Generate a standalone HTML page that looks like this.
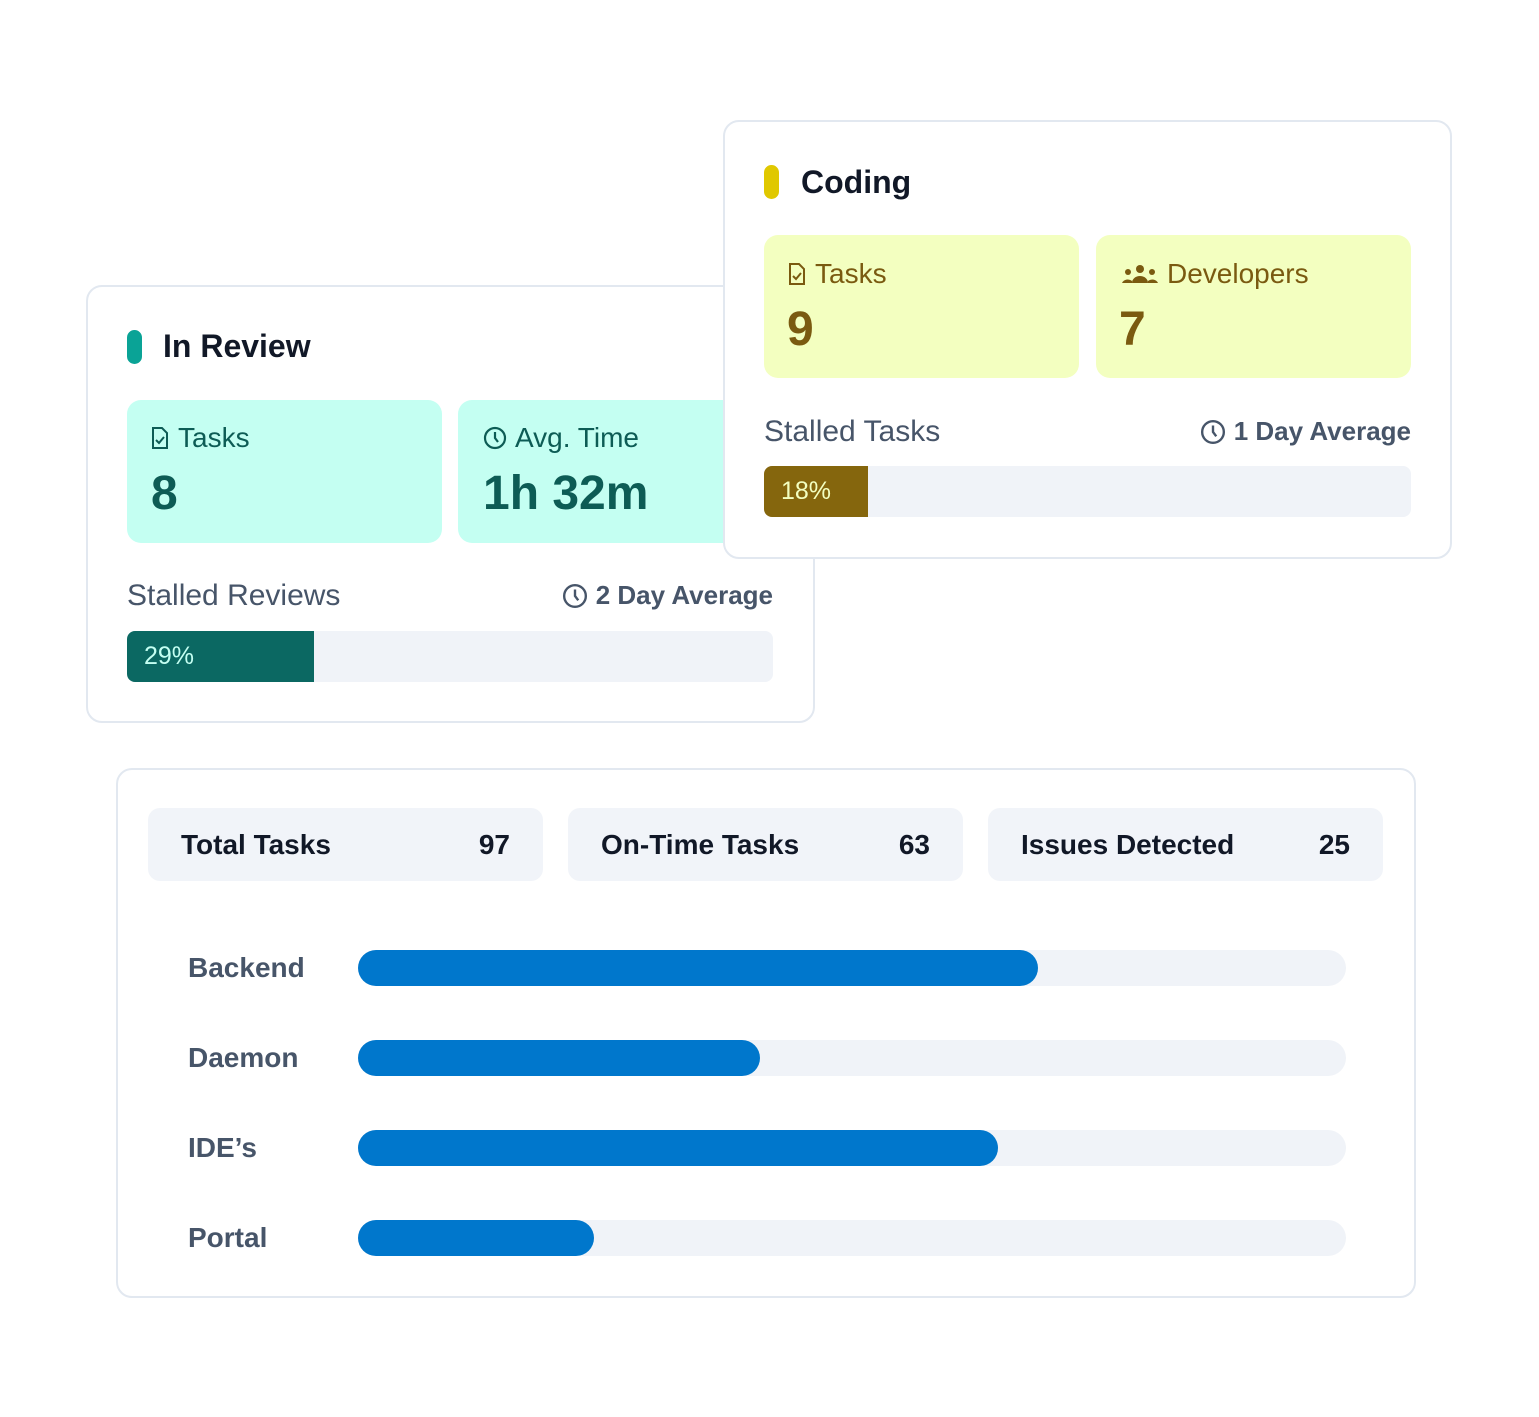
<!DOCTYPE html>
<html><head><meta charset="utf-8"><style>
body{margin:0;width:1539px;height:1417px;background:#fff;font-family:"Liberation Sans",sans-serif;position:relative;overflow:hidden}
.abs{position:absolute}
.card{position:absolute;background:#fff;border:2px solid #e2e8f0;border-radius:16px;box-sizing:border-box}
.tile{position:absolute;border-radius:14px}
.lbl{position:absolute;font-size:28px;display:flex;align-items:center;gap:8px}
.val{position:absolute;font-size:48px;font-weight:bold}
.track{position:absolute;background:#f0f3f8;border-radius:8px;overflow:hidden}
.fill{position:absolute;left:0;top:0;bottom:0;color:#fff;font-size:25px;display:flex;align-items:center;padding-left:17px;box-sizing:border-box}
.stat{position:absolute;background:#f1f4f9;border-radius:12px;top:808px;height:73px;width:395px;font-size:28px;font-weight:bold;color:#111827}
.stat span{position:absolute;top:50%;transform:translateY(-50%)}
</style></head><body>

<div class="card" style="left:86px;top:285px;width:729px;height:438px">
</div>
<div class="abs" style="left:127px;top:330px;width:15px;height:34px;border-radius:8px;background:#0aa396"></div>
<div class="abs" style="left:163px;top:328px;font-size:32px;font-weight:bold;color:#111827">In Review</div>
<div class="tile" style="left:127px;top:400px;width:315px;height:143px;background:#c4fff2"></div>
<div class="lbl" style="left:150px;top:422px;color:#0d5c55"><svg width="20" height="24" viewBox="0 0 20 24"><path d="M3 2h9l5 5v15H3z" fill="none" stroke="#0d5c55" stroke-width="2"/><path d="M6 14l3 3 5-6" fill="none" stroke="#0d5c55" stroke-width="2"/></svg>Tasks</div>
<div class="val" style="left:151px;top:466px;color:#0d5c55">8</div>
<div class="tile" style="left:458px;top:400px;width:330px;height:143px;background:#c4fff2"></div>
<div class="lbl" style="left:483px;top:422px;color:#0d5c55"><svg width="24" height="24" viewBox="0 0 24 24"><circle cx="12" cy="12" r="10" fill="none" stroke="#0d5c55" stroke-width="2.2"/><path d="M12 6v6l3 4" fill="none" stroke="#0d5c55" stroke-width="2.2"/></svg>Avg. Time</div>
<div class="val" style="left:483px;top:466px;color:#0d5c55">1h 32m</div>
<div class="abs" style="left:127px;top:579px;font-size:30px;color:#475569">Stalled Reviews</div>
<div class="abs" style="right:766px;top:580px;font-size:26px;font-weight:bold;color:#475569;display:flex;align-items:center;gap:8px"><svg width="26" height="26" viewBox="0 0 24 24"><circle cx="12" cy="12" r="10" fill="none" stroke="#475569" stroke-width="2.2"/><path d="M12 6v6l3 4" fill="none" stroke="#475569" stroke-width="2.2"/></svg>2 Day Average</div>
<div class="track" style="left:127px;top:631px;width:646px;height:51px"><div class="fill" id="fillReview" style="background:#0b6862;color:#c4fff2">29%</div></div>

<div class="card" style="left:723px;top:120px;width:729px;height:439px"></div>
<div class="abs" style="left:764px;top:165px;width:15px;height:34px;border-radius:8px;background:#e0c800"></div>
<div class="abs" style="left:801px;top:164px;font-size:32px;font-weight:bold;color:#111827">Coding</div>
<div class="tile" style="left:764px;top:235px;width:315px;height:143px;background:#f3ffc0"></div>
<div class="lbl" style="left:787px;top:258px;color:#7a5a10"><svg width="20" height="24" viewBox="0 0 20 24"><path d="M3 2h9l5 5v15H3z" fill="none" stroke="#7a5a10" stroke-width="2"/><path d="M6 14l3 3 5-6" fill="none" stroke="#7a5a10" stroke-width="2"/></svg>Tasks</div>
<div class="val" style="left:787px;top:302px;color:#7a5a10">9</div>
<div class="tile" style="left:1096px;top:235px;width:315px;height:143px;background:#f3ffc0"></div>
<div class="lbl" style="left:1121px;top:258px;color:#7a5a10"><svg width="38" height="20" viewBox="0 0 38 20"><circle cx="19" cy="5" r="4" fill="#7a5a10"/><circle cx="7" cy="8" r="3" fill="#7a5a10"/><circle cx="31" cy="8" r="3" fill="#7a5a10"/><path d="M11 19a8 7 0 0 1 16 0z" fill="#7a5a10"/><path d="M1 19a6 5 0 0 1 10-2v2z M27 17a6 5 0 0 1 10 2h-10z" fill="#7a5a10"/></svg>Developers</div>
<div class="val" style="left:1119px;top:302px;color:#7a5a10">7</div>
<div class="abs" style="left:764px;top:415px;font-size:30px;color:#475569">Stalled Tasks</div>
<div class="abs" style="right:128px;top:416px;font-size:26px;font-weight:bold;color:#475569;display:flex;align-items:center;gap:8px"><svg width="26" height="26" viewBox="0 0 24 24"><circle cx="12" cy="12" r="10" fill="none" stroke="#475569" stroke-width="2.2"/><path d="M12 6v6l3 4" fill="none" stroke="#475569" stroke-width="2.2"/></svg>1 Day Average</div>
<div class="track" style="left:764px;top:466px;width:647px;height:51px"><div class="fill" id="fillCoding" style="background:#85660d;color:#f3ffc0">18%</div></div>

<div class="card" style="left:116px;top:768px;width:1300px;height:530px"></div>
<div class="stat" style="left:148px"><span style="left:33px">Total Tasks</span><span style="right:33px">97</span></div>
<div class="stat" style="left:568px"><span style="left:33px">On-Time Tasks</span><span style="right:33px">63</span></div>
<div class="stat" style="left:988px"><span style="left:33px">Issues Detected</span><span style="right:33px">25</span></div>
<div id="bars"></div>

<script>
const categories = ["Backend","Daemon","IDE\u2019s","Portal"];
const values = [68.8, 40.7, 64.8, 23.9];
const maxValue = 100;
const stalledValues = [29, 16];

document.getElementById('fillReview').style.width = (stalledValues[0]/100*646) + 'px';
document.getElementById('fillCoding').style.width = (stalledValues[1]/100*647) + 'px';

const trackX = 358, trackW = 988, y0 = 950, rowH = 90, barH = 36;
function xScale(v){ return v / maxValue * trackW; }
const host = document.getElementById('bars');
categories.forEach((c, i) => {
  const y = y0 + i * rowH;
  const lab = document.createElement('div');
  
  
  lab.textContent = c;
  lab.style.cssText = `position:absolute;left:188px;top:${y}px;height:${barH}px;line-height:${barH}px;font-size:28px;font-weight:bold;color:#475569`;
  host.appendChild(lab);
  const tr = document.createElement('div');
  
  
  tr.style.cssText = `position:absolute;left:${trackX}px;top:${y}px;width:${trackW}px;height:${barH}px;border-radius:18px;background:#f0f3f8`;
  host.appendChild(tr);
  const b = document.createElement('div');
  
  
  b.style.cssText = `position:absolute;left:${trackX}px;top:${y}px;width:${xScale(values[i])}px;height:${barH}px;border-radius:18px;background:#0077cc`;
  host.appendChild(b);
});
</script>
</body></html>
